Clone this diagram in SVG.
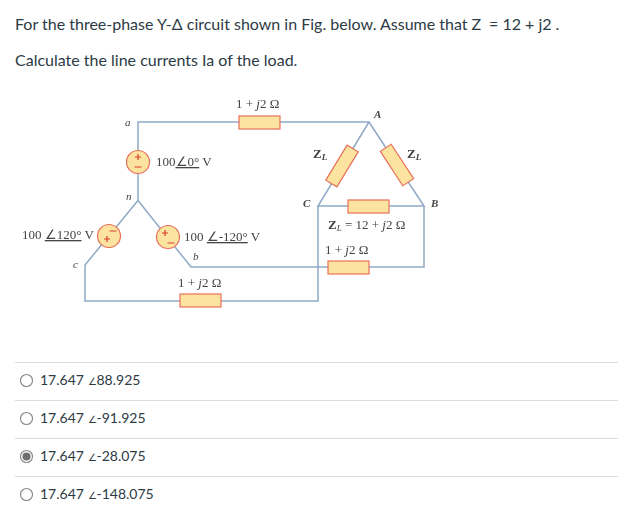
<svg xmlns="http://www.w3.org/2000/svg" width="631" height="516" viewBox="0 0 631 516">
<style>
.ui{font-family:"Lato","Liberation Sans",sans-serif;font-size:16px;fill:#2d3b45}
.opt{font-family:"Lato","Liberation Sans",sans-serif;font-size:14px;fill:#2d3b45}
.ang{font-size:10px}
.c{font-family:"Liberation Serif",serif;font-size:13px;fill:#444}
.l{font-size:11px}
.b{font-weight:bold}
.i{font-style:italic}
.sub{font-size:9px;font-style:italic}
.w{fill:none;stroke:#8fa9c6;stroke-width:1.5;stroke-linejoin:miter}
.r{fill:#fde3a0;stroke:#e8705a;stroke-width:1.2}
.s{fill:#fde3a0;stroke:#e8705a;stroke-width:1.2}
.m{fill:none;stroke:#d8402f;stroke-width:1.2}
.sep{stroke:#dcdcdc;stroke-width:1}
.rb{fill:#fff;stroke:#8a8a8a;stroke-width:1.2}
</style>
<defs><filter id="soft" x="-5%" y="-5%" width="110%" height="110%"><feGaussianBlur stdDeviation="0.4"/></filter></defs>
<rect width="631" height="516" fill="#fff"/>
<text class="ui" x="15" y="30">For the three-phase Y-Δ circuit shown in Fig. below. Assume that Z</text>
<text class="ui" x="489" y="30">= 12 + j2 .</text>
<text class="ui" x="15" y="66">Calculate the line currents Ia of the load.</text>
<g filter="url(#soft)">
<g id="connectors">
<path class="w" d="M138 200.500V122H369L318 206H424L369 122"/>
<path class="w" d="M138 200.500L85 265V301H318V206"/>
<path class="w" d="M138 200.500L191 267H424V206"/>
</g>
<g id="src-a"><circle class="s" cx="138" cy="162" r="11.500"/><path class="m" d="M135 157h6M138 154v6M134.500 167h7"/></g>
<g id="src-c"><circle class="s" cx="109" cy="236" r="11.500"/><path class="m" d="M109.500 231h7M104 239h6M107 236v6"/></g>
<g id="src-b"><circle class="s" cx="168" cy="237" r="11.500"/><path class="m" d="M162 233h6M165 230v6M167.500 243h7"/></g>
<g id="r-a"><rect class="r" x="239" y="116" width="41" height="13"/></g>
<g id="r-b"><rect class="r" x="328" y="261" width="41" height="13"/></g>
<g id="r-c"><rect class="r" x="180" y="294" width="41" height="13"/></g>
<g id="z-ca"><rect class="r" x="-20.500" y="-6.500" width="41" height="13" transform="translate(342 166) rotate(-58.700)"/></g>
<g id="z-ab"><rect class="r" x="-20.500" y="-6.500" width="41" height="13" transform="translate(397 165) rotate(56.800)"/></g>
<g id="z-bc"><rect class="r" x="348" y="200" width="41" height="13"/></g>
<g id="labels">
<text class="c" x="236" y="108">1 + <tspan class="i">j</tspan>2 Ω</text>
<text class="c" x="178" y="287">1 + <tspan class="i">j</tspan>2 Ω</text>
<text class="c" x="325" y="254">1 + <tspan class="i">j</tspan>2 Ω</text>
<text class="c" x="156" y="166">100<tspan text-decoration="underline">∠0°</tspan> V</text>
<text class="c" x="22" y="239">100 <tspan text-decoration="underline">∠120°</tspan> V</text>
<text class="c" x="184" y="241">100 <tspan text-decoration="underline">∠-120°</tspan> V</text>
<text class="c i l" x="125" y="126">a</text>
<text class="c i l" x="126" y="200">n</text>
<text class="c i l" x="193" y="260">b</text>
<text class="c i l" x="73" y="268">c</text>
<text class="c i b l" x="374" y="118">A</text>
<text class="c i b l" x="303" y="207">C</text>
<text class="c i b l" x="431" y="207">B</text>
<text class="c b" x="313" y="158">Z<tspan class="sub" dy="2">L</tspan></text>
<text class="c b" x="407" y="158">Z<tspan class="sub" dy="2">L</tspan></text>
<text class="c" x="328" y="229"><tspan class="b">Z</tspan><tspan class="sub" dy="2">L</tspan><tspan dy="-2"> = 12 + </tspan><tspan class="i">j</tspan>2 Ω</text>
</g>
</g>
<g id="options">
<path class="sep" d="M15 362.500H618M15 400.500H618M15 438.500H618M15 476.500H618"/>
<circle class="rb" cx="26.500" cy="380.500" r="6"/>
<circle class="rb" cx="26.500" cy="418.500" r="6"/>
<circle class="rb" cx="26.500" cy="456.500" r="6"/><circle cx="26.500" cy="456.500" r="4" fill="#6f6f6f"/>
<circle class="rb" cx="26.500" cy="494.500" r="6"/>
<text class="opt" x="40" y="384.500">17.647 <tspan class="ang">∠</tspan>88.925</text>
<text class="opt" x="40" y="422.500">17.647 <tspan class="ang">∠</tspan>-91.925</text>
<text class="opt" x="40" y="460.500">17.647 <tspan class="ang">∠</tspan>-28.075</text>
<text class="opt" x="40" y="498.500">17.647 <tspan class="ang">∠</tspan>-148.075</text>
</g>
</svg>
